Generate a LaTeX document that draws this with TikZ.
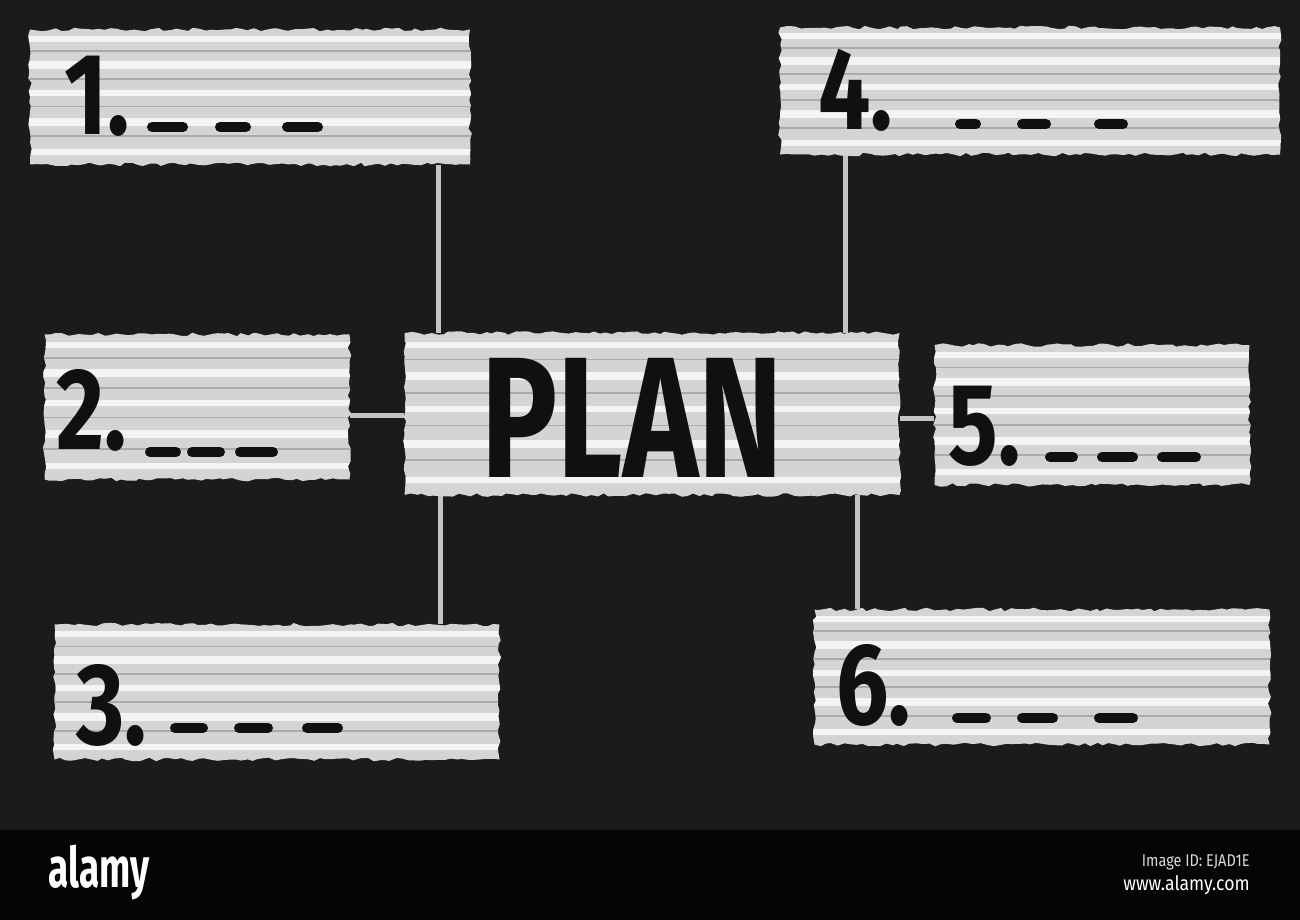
\documentclass[tikz,border=0pt]{standalone}
\usepackage{fontspec}
\setmainfont{Fira Sans}
\usetikzlibrary{calc,backgrounds,decorations.pathmorphing}
\definecolor{board}{HTML}{1B1B1B}
\definecolor{barblack}{HTML}{050505}
\definecolor{chalk}{HTML}{D4D4D4}
\definecolor{streak}{HTML}{9C9C9C}
\definecolor{ink}{HTML}{101010}
\definecolor{chalkline}{HTML}{C4C4C4}

\begin{document}
\begin{tikzpicture}[x=0.5pt,y=-0.5pt,
  chalk box/.style={fill=chalk,inner sep=0pt,decorate,
    decoration={random steps,segment length=3pt,amplitude=0.9pt},
    path picture={
      \foreach \k/\c/\w in {0.08/white/3,0.17/streak/0.8,0.27/white/4,0.37/streak/1,
                            0.47/white/3,0.57/streak/0.8,0.68/white/4,0.78/streak/1,0.9/white/3}
        \draw[\c,line width=\w pt,opacity=0.75]
          ($(path picture bounding box.north west)!\k!(path picture bounding box.south west)$) --
          ($(path picture bounding box.north east)!\k!(path picture bounding box.south east)$);
    }},
  num/.style={anchor=base west,inner sep=0pt,text=ink,font=\fontsize{58}{58}\selectfont\bfseries},
  blank/.style={draw=ink,line width=5pt,line cap=round},
  link/.style={draw=chalkline,line width=2.5pt}]
  \useasboundingbox (0,0) rectangle (1300,920);

  % board and bottom strip
  \begin{scope}[on background layer]
    \fill[board] (0,0) rectangle (1300,830);
    \fill[barblack] (0,830) rectangle (1300,920);
  \end{scope}

  % chalk boxes
  \node[chalk box,minimum width=220pt,minimum height=67.5pt] (box1) at (250,97) {};
  \node[chalk box,minimum width=152.5pt,minimum height=72.5pt] (box2) at (197,407) {};
  \node[chalk box,minimum width=222.5pt,minimum height=67.5pt] (box3) at (277,692) {};
  \node[chalk box,minimum width=250pt,minimum height=63.5pt] (box4) at (1030,91) {};
  \node[chalk box,minimum width=157.5pt,minimum height=70pt] (box5) at (1092,415) {};
  \node[chalk box,minimum width=227.5pt,minimum height=67.5pt] (box6) at (1042,677) {};
  \node[chalk box,minimum width=247.5pt,minimum height=81pt] (plan) at (652,414) {};

  \node[inner sep=0pt,text=ink,font=\fontsize{86}{86}\selectfont\bfseries] (plantext) at (632,418)
    {\scalebox{0.74}[1]{PLAN}};

  % numbers
  \node[num] (n1) at (64,134) {\scalebox{0.8}[1]{1.}};
  \node[num] (n2) at (56,449) {\scalebox{0.8}[1]{2.}};
  \node[num] (n3) at (76,744) {\scalebox{0.8}[1]{3.}};
  \node[num] (n4) at (818,129) {\scalebox{0.8}[1]{4.}};
  \node[num] (n5) at (948,464) {\scalebox{0.8}[1]{5.}};
  \node[num] (n6) at (836,724) {\scalebox{0.8}[1]{6.}};

  % blanks
  \foreach \y/\a/\b/\c/\d/\e/\f in {127/152/183/220/246/287/318, 452/150/176/192/220/240/273,
      728/175/203/239/268/307/338, 124/960/976/1022/1046/1099/1123,
      457/1050/1073/1102/1133/1162/1196, 718/957/986/1022/1053/1099/1133}
    \draw[blank] (\a,\y) -- (\b,\y) (\c,\y) -- (\d,\y) (\e,\y) -- (\f,\y);

  % connectors
  \coordinate (c1) at ($(box1.south)+(188,0)$);
  \coordinate (c4) at ($(box4.south)+(-185,0)$);
  \coordinate (c2) at ($(box2.east)+(0,8)$);
  \coordinate (c5) at ($(box5.west)+(0,3)$);
  \coordinate (c3) at ($(box3.north)+(163,0)$);
  \coordinate (c6) at ($(box6.north)+(-185,0)$);
  \begin{scope}[on background layer]
    \draw[link] (c1) -- (c1 |- plan.north);
    \draw[link] (c4) -- (c4 |- plan.north);
    \draw[link] (c2) -- (c2 -| plan.west);
    \draw[link] (c5) -- (c5 -| plan.east);
    \draw[link] (c3) -- (c3 |- plan.south);
    \draw[link] (c6) -- (c6 |- plan.south);
  \end{scope}

  % bottom strip texts
  \node[anchor=west,inner sep=0pt,text=white,font=\fontsize{28}{28}\selectfont\bfseries] (logo) at (48,872)
    {\scalebox{0.66}[1]{alamy}};
  \node[anchor=east,inner sep=0pt,text=white!85!black,font=\fontsize{8.5}{8.5}\selectfont] (imgid) at (1250,862)
    {\scalebox{0.85}[1]{Image ID: EJAD1E}};
  \node[anchor=east,inner sep=0pt,text=white,font=\fontsize{10}{10}\selectfont] (site) at (1250,885)
    {\scalebox{0.88}[1]{www.alamy.com}};
\end{tikzpicture}
\end{document}
